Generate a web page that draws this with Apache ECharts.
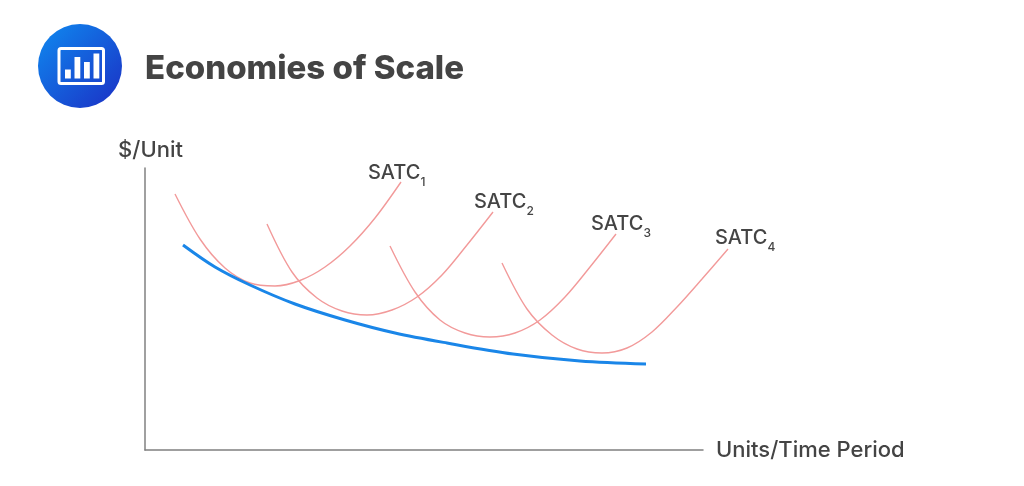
<!DOCTYPE html>
<html>
<head>
    <meta charset="utf-8" />
    <title>Economies of Scale</title>
    <script src="https://cdn.jsdelivr.net/npm/echarts@6/dist/echarts.min.js"></script>
    <style>
        html, body { margin: 0; padding: 0; background: #fff; }
        #main { width: 1024px; height: 486px; }
    </style>
</head>
<body>
    <div id="main"></div>
    <script>
        // values, [units, $/unit]
        var satc1 = [[30, 256], [55, 211], [80, 182], [105, 167], [130, 164], [155, 169.5], [180, 183], [205, 204], [230, 232], [256, 268]];
        var satc2 = [[122, 226], [147, 178], [172, 152], [197, 139], [222, 135], [247, 140], [272, 153], [297, 175], [322, 205], [348, 238]];
        var satc3 = [[245, 204], [270, 158], [295, 130], [320, 117], [345, 113], [370, 117], [395, 130], [420, 153], [445, 183], [471, 216]];
        var satc4 = [[357, 187], [382, 141], [407, 115], [432, 101], [457, 97], [482, 102], [507, 118], [532, 143], [557, 171], [583, 201]];
        var lrac = [[38, 205], [70, 183], [105, 165], [150, 146], [200, 130], [250, 117], [302, 107], [368, 96], [435, 89], [501, 86]];
        var seriesNames = ['SATC', 'SATC', 'SATC', 'SATC'];
        var subscripts = ['1', '2', '3', '4'];
        var labelOffsets = [[-41, -9], [-27, -10], [-33, -10], [-21, -11]];

        var fontName = 'Inter';
        var myChart = echarts.init(document.getElementById('main'), null, { renderer: 'canvas' });

        // curves sit on a hidden second grid, SATC4 runs past the end of the drawn axis
        function satcSeries(data, i) {
            return {
                name: seriesNames[i] + subscripts[i],
                type: 'line',
                xAxisIndex: 1,
                yAxisIndex: 1,
                smooth: 0.33,
                symbol: 'none',
                silent: true,
                lineStyle: { color: '#f29a9a', width: 1.4 },
                data: data,
                endLabel: {
                    show: true,
                    offset: labelOffsets[i],
                    formatter: function () { return seriesNames[i] + '{s|' + subscripts[i] + '}'; },
                    color: '#444',
                    fontFamily: fontName,
                    fontSize: 20,
                    fontWeight: 500,
                    rich: {
                        s: { fontFamily: fontName, fontSize: 12, color: '#444', verticalAlign: 'bottom', padding: [18, 0, 0, 0] }
                    }
                }
            };
        }

        var barX = [65, 74.5, 84, 93.5];
        var barTop = [69.5, 57, 62, 53.5];
        var icon = [{
            type: 'circle',
            shape: { cx: 80, cy: 66, r: 42 },
            style: {
                fill: new echarts.graphic.LinearGradient(0, 0, 1, 1, [
                    { offset: 0, color: '#0f8af0' },
                    { offset: 1, color: '#1b2fc4' }
                ])
            }
        }, {
            type: 'rect',
            shape: { x: 59, y: 48.5, width: 44.5, height: 35, r: 2 },
            style: { fill: 'none', stroke: '#fff', lineWidth: 3 }
        }];
        barX.forEach(function (x, i) {
            icon.push({
                type: 'rect',
                shape: { x: x, y: barTop[i], width: 5.8, height: 78.5 - barTop[i] },
                style: { fill: '#fff' }
            });
        });

        var option = {
            animation: false,
            title: {
                text: 'Economies of Scale',
                left: 140,
                top: 48,
                textStyle: { color: '#444', fontFamily: fontName, fontSize: 33, fontWeight: 800 }
            },
            graphic: icon,
            grid: [
                { left: 145, top: 168, width: 558, height: 282 },
                { left: 145, top: 168, width: 600, height: 282 }
            ],
            xAxis: [{
                type: 'value',
                gridIndex: 0,
                min: 0,
                max: 558,
                name: 'Units/Time Period',
                nameLocation: 'end',
                nameGap: 13,
                nameTextStyle: { color: '#444', fontFamily: fontName, fontSize: 22, fontWeight: 500 },
                axisLine: { show: true, lineStyle: { color: '#808080', width: 1.5 } },
                axisTick: { show: false },
                axisLabel: { show: false },
                splitLine: { show: false }
            }, {
                type: 'value',
                gridIndex: 1,
                min: 0,
                max: 600,
                show: false
            }],
            yAxis: [{
                type: 'value',
                gridIndex: 0,
                min: 0,
                max: 282,
                name: '$/Unit',
                nameLocation: 'end',
                nameGap: 7,
                nameTextStyle: { color: '#444', fontFamily: fontName, fontSize: 22, fontWeight: 500, align: 'center', padding: [0, 0, 0, 11] },
                axisLine: { show: true, lineStyle: { color: '#808080', width: 1.5 } },
                axisTick: { show: false },
                axisLabel: { show: false },
                splitLine: { show: false }
            }, {
                type: 'value',
                gridIndex: 1,
                min: 0,
                max: 282,
                show: false
            }],
            series: [satc1, satc2, satc3, satc4].map(satcSeries).concat([{
                name: 'LRATC',
                type: 'line',
                xAxisIndex: 1,
                yAxisIndex: 1,
                smooth: 0.33,
                symbol: 'none',
                silent: true,
                lineStyle: { color: '#1a86e8', width: 3 },
                data: lrac
            }])
        };

        myChart.setOption(option);
    </script>
</body>
</html>
